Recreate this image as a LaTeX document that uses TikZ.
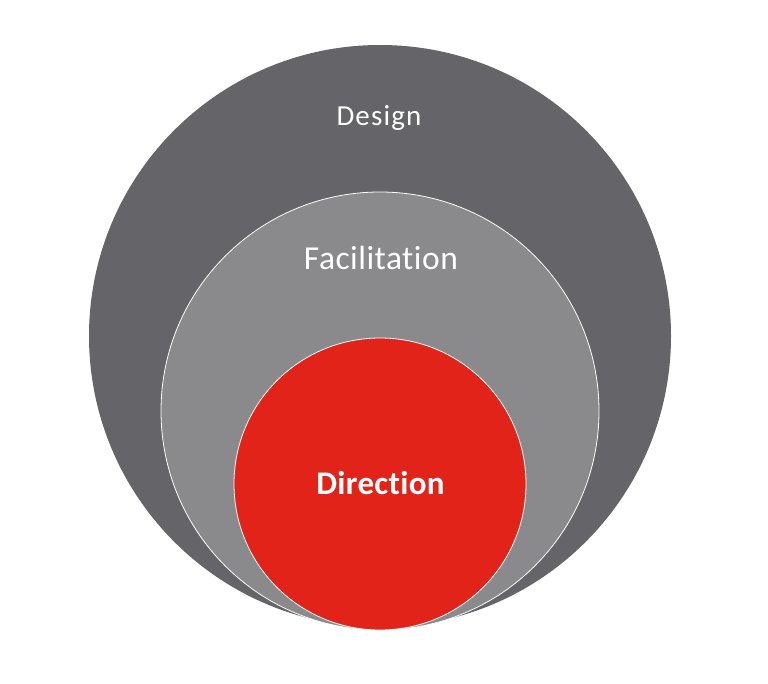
\documentclass[tikz,border=0pt]{standalone}
\usepackage{fontspec}
\setmainfont{Carlito}[Ligatures={NoCommon}]
\definecolor{outergrey}{HTML}{656468}
\definecolor{midgrey}{HTML}{8A8A8C}
\definecolor{corered}{HTML}{E22319}
\begin{document}
\begin{tikzpicture}[x=1pt,y=-1pt,line join=round,every node/.style={text=white,inner sep=0pt,anchor=base}]
\def\cx{380}
\useasboundingbox (0,0) rectangle (768,684);
\fill[outergrey] (\cx,336) circle (291);
\filldraw[midgrey,draw=white,line width=0.8pt] (\cx,411) circle (219);
\filldraw[corered,draw=white,line width=0.8pt] (\cx,484) circle (146);
\node (design) at (379,126) {\fontsize{29}{29}\selectfont\addfontfeatures{LetterSpace=4}Design};
\node (facil) at (381,270) {\fontsize{33.5}{33.5}\selectfont\addfontfeatures{LetterSpace=1.5}Facilitation};
\node (dir) at (380.5,494) {\fontsize{33}{33}\selectfont\bfseries\addfontfeatures{LetterSpace=1}Direction};
\end{tikzpicture}
\end{document}
